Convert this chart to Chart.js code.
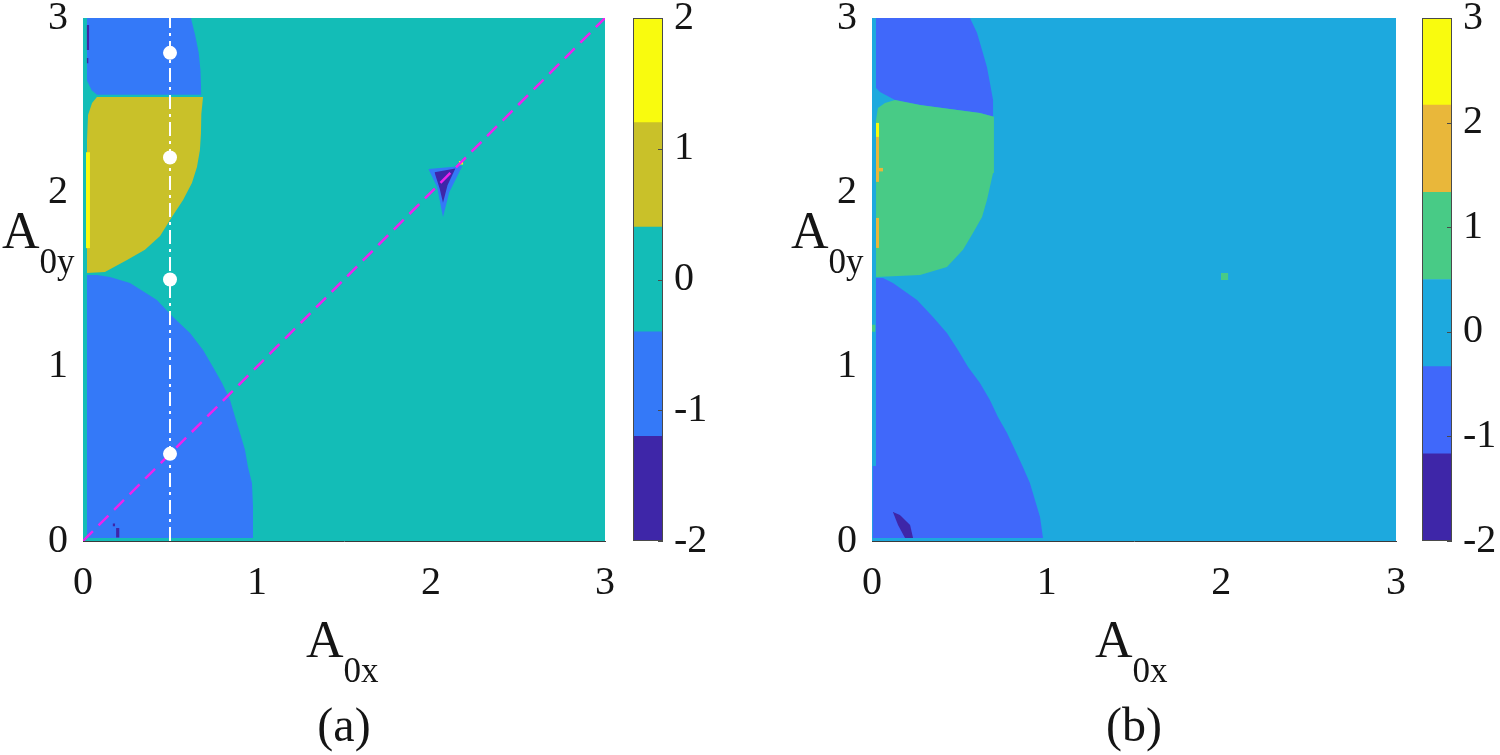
<!DOCTYPE html>
<html><head><meta charset="utf-8">
<script src="https://cdn.jsdelivr.net/npm/chart.js@4.4.1/dist/chart.umd.min.js"></script>
<style>
html,body{margin:0;padding:0;background:#fff;}
#wrap{position:relative;width:1500px;height:755px;overflow:hidden;background:#fff;}
canvas{position:absolute;top:0;}
</style></head><body>
<div id="wrap">
<canvas id="plotA" width="625" height="755" style="left:0px"></canvas>
<canvas id="cbarA" width="78" height="755" style="left:633px"></canvas>
<canvas id="plotB" width="627" height="755" style="left:789px"></canvas>
<canvas id="cbarB" width="78" height="755" style="left:1422px"></canvas>
</div>
<script>
// ================= DATA =================
const A0x_ticks = [0, 1, 2, 3];
const A0y_ticks = [0, 1, 2, 3];

// colour bars
const cbarA_ticks = [-2, -1, 0, 1, 2];
const cbarA_edges = [-2, -1.2, -0.4, 0.4, 1.2, 2];
const cbarB_ticks = [-2, -1, 0, 1, 2, 3];
const cbarB_edges = [-2, -1.1667, -0.3333, 0.5, 1.3333, 2.1667, 3];

// ---- panel (a) regions (A0x, A0y) ----
const a_level0_full = [[0, 3], [3, 3]];                       // level 0 everywhere, down to 0
const a_topBlue_upper = [[0.023, 3], [0.62, 3], [0.645, 2.9], [0.665, 2.8], [0.675, 2.7], [0.68, 2.56]];
const a_topBlue_lower = [[0.023, 2.64], [0.05, 2.585], [0.08, 2.56], [0.68, 2.56]];
const a_olive_upper = [[0.023, 2.30], [0.029, 2.444], [0.052, 2.513], [0.08, 2.547], [0.69, 2.547]];
const a_olive_lower = [[0.023, 1.538], [0.126, 1.543], [0.253, 1.612], [0.356, 1.670], [0.443, 1.75],
  [0.511, 1.859], [0.575, 1.956], [0.626, 2.054], [0.655, 2.146], [0.672, 2.243], [0.678, 2.341],
  [0.68, 2.45], [0.69, 2.547]];
const a_lowBlue_upper = [[0.023, 1.526], [0.08, 1.526], [0.155, 1.515], [0.27, 1.48], [0.425, 1.383],
  [0.517, 1.285], [0.615, 1.193], [0.69, 1.096], [0.747, 0.998], [0.799, 0.906], [0.845, 0.809],
  [0.874, 0.711], [0.902, 0.62], [0.931, 0.522], [0.948, 0.425], [0.971, 0.333], [0.977, 0.2], [0.977, 0.017]];
const a_lowBlue_base = 0.017;
const a_yellowStrip = [0.017, 0.040, 1.68, 2.23];             // x0, x1, y0, y1
const a_purpleStripTop = [0.021, 0.036, 2.817, 2.96];
const a_purpleDotTop = [0.021, 0.032, 2.74, 2.77];
const a_purpleMarkLow = [0.19, 0.21, 0.02, 0.075];
const a_purpleDotLow = [0.17, 0.185, 0.085, 0.1];
const a_tri_upper = [[1.985, 2.134], [2.18, 2.151]];
const a_tri_lower = [[1.985, 2.134], [2.035, 2.03], [2.069, 1.859], [2.105, 2.0], [2.18, 2.151]];
const a_triCore_upper = [[2.02, 2.115], [2.14, 2.137]];
const a_triCore_lower = [[2.02, 2.115], [2.05, 2.02], [2.069, 1.94], [2.095, 2.04], [2.14, 2.137]];
const a_yellowSpot = [2.16, 2.185, 2.16, 2.18];
const a_diagonal = [[0, 0], [3, 3]];
const a_cutLine = [[0.5, 0], [0.5, 3]];
const a_cutPoints_x = [0.5, 0.5, 0.5, 0.5];
const a_cutPoints_y = [2.8, 2.2, 1.5, 0.5];

// ---- panel (b) regions ----
const b_level0_full = [[0, 3], [3, 3]];
const b_topBlue_upper = [[0.023, 3], [0.561, 3], [0.601, 2.915], [0.63, 2.817], [0.658, 2.719],
  [0.675, 2.628], [0.693, 2.53], [0.698, 2.433]];
const b_topBlue_lower = [[0.023, 2.599], [0.046, 2.576], [0.132, 2.53], [0.275, 2.501], [0.446, 2.478],
  [0.618, 2.455], [0.698, 2.433]];
const b_green_upper = [[0.023, 2.415], [0.034, 2.484], [0.074, 2.513], [0.132, 2.53], [0.275, 2.501],
  [0.446, 2.478], [0.618, 2.455], [0.698, 2.433]];
const b_green_lower = [[0.023, 1.515], [0.275, 1.526], [0.429, 1.572], [0.521, 1.67], [0.578, 1.767],
  [0.63, 1.859], [0.658, 1.956], [0.675, 2.031], [0.693, 2.111], [0.698, 2.243], [0.698, 2.433]];
const b_orangeStrip1 = [0.023, 0.040, 2.06, 2.398];
const b_orangeNub = [0.023, 0.063, 2.12, 2.14];
const b_yellowStrip = [0.023, 0.040, 2.318, 2.398];
const b_orangeStrip2 = [0.023, 0.040, 1.681, 1.853];
const b_lowBlue_upper = [[0.023, 1.509], [0.063, 1.509], [0.12, 1.48], [0.258, 1.383], [0.349, 1.285],
  [0.429, 1.193], [0.492, 1.096], [0.55, 0.998], [0.618, 0.906], [0.675, 0.809], [0.721, 0.711],
  [0.773, 0.62], [0.819, 0.522], [0.864, 0.425], [0.904, 0.333], [0.933, 0.235], [0.962, 0.138], [0.979, 0.017]];
const b_lowBlue_base = 0.017;
const b_lowBlueEdge = [0.003, 0.023, 0.017, 0.43];
const b_greenEdgeSpot = [0.0, 0.02, 1.2, 1.24];
const b_purple_upper = [[0.12, 0.166], [0.16, 0.149], [0.218, 0.092], [0.235, 0.017]];
const b_purple_lower = [[0.12, 0.166], [0.149, 0.092], [0.189, 0.017], [0.235, 0.017]];
const b_greenSpot = [1.998, 2.04, 1.497, 1.537];

// ================= STYLE =================
const colA = {m2: '#3E26A8', m1: '#3479F8', z: '#13BDB7', p1: '#C9C129', p2: '#F9FB0E'};
const colB = {m2: '#3E26A8', m1: '#4068FA', z: '#1DA9DE', p1: '#48CB86', p2: '#E9B73A', p3: '#F9FB0E'};
const SERIF = '"Liberation Serif", "Times New Roman", serif';
const tickFont = {family: SERIF, size: 40};
const INK = '#151515';

// ================= BUILDERS =================
const pts = arr => arr.map(p => ({x: p[0], y: p[1]}));
function layerBuilder() {
  const list = [];
  const hidden = {borderWidth: 0, borderColor: 'rgba(0,0,0,0)', pointRadius: 0, fill: false};
  return {
    list,
    toValue(line, base, color) {
      list.push(Object.assign({}, hidden, {data: pts(line), fill: {value: base}, backgroundColor: color}));
    },
    rect(r, color) {
      list.push(Object.assign({}, hidden, {data: pts([[r[0], r[3]], [r[1], r[3]]]), fill: {value: r[2]}, backgroundColor: color}));
    },
    between(upper, lower, color) {
      list.push(Object.assign({}, hidden, {data: pts(upper)}));
      list.push(Object.assign({}, hidden, {data: pts(lower), fill: '-1', backgroundColor: color}));
    },
    line(data, color, width, dash) {
      list.push({data: pts(data), borderColor: color, borderWidth: width, borderDash: dash, pointRadius: 0, fill: false});
    },
    points(xs, ys, color, r) {
      list.push({data: xs.map((x, i) => ({x, y: ys[i]})), showLine: false, pointRadius: r,
        pointBackgroundColor: color, pointBorderWidth: 0, borderColor: color, fill: false});
    },
    finish() { // paint order = array order (first painted lowest)
      const n = list.length;
      list.forEach((d, i) => { d.order = n - i; });
      return list;
    }
  };
}

const panelTextPlugin = {
  id: 'panelText',
  afterDraw(chart, args, o) {
    if (!o || !o.panel) return;
    const {ctx, chartArea: ca} = chart;
    ctx.save();
    ctx.fillStyle = INK;
    ctx.textBaseline = 'alphabetic';
    ctx.textAlign = 'left';
    const sub = (main, s, x, y, dy) => {
      ctx.font = '52px ' + SERIF; ctx.fillText(main, x, y);
      const w = ctx.measureText(main).width;
      ctx.font = '35px ' + SERIF; ctx.fillText(s, x + w, y + dy);
    };
    sub('A', '0x', ca.left + 223, 657, 25);
    sub('A', '0y', ca.left - 81, 248, 25);
    ctx.font = '48px ' + SERIF; ctx.textAlign = 'center';
    ctx.fillText(o.panel, (ca.left + ca.right) / 2, 741);
    ctx.restore();
  }
};

const cbarFramePlugin = {
  id: 'cbarFrame',
  afterDraw(chart, args, o) {
    if (!o || !o.ticks) return;
    const {ctx, chartArea: ca} = chart;
    const ys = chart.scales.y;
    ctx.save();
    ctx.strokeStyle = '#4a4a4a';
    ctx.lineWidth = 1;
    ctx.strokeRect(ca.left + 0.5, ca.top + 0.5, ca.right - ca.left - 1, ca.bottom - ca.top - 1);
    o.ticks.forEach(v => {
      const y = Math.round(ys.getPixelForValue(v)) + 0.5;
      ctx.beginPath(); ctx.moveTo(ca.right - 5, y); ctx.lineTo(ca.right, y); ctx.stroke();
    });
    ctx.restore();
  }
};

const noPad = s => { s.paddingTop = 0; s.paddingBottom = 0; s.paddingLeft = 0; s.paddingRight = 0; };

function makePlot(id, datasets, panel) {
  return new Chart(document.getElementById(id), {
    type: 'line',
    data: {datasets},
    options: {
      responsive: false, animation: false, devicePixelRatio: 1,
      layout: {padding: {top: 18, right: 20, left: 0, bottom: 0}},
      elements: {line: {tension: 0}, point: {radius: 0, hoverRadius: 0}},
      plugins: {legend: {display: false}, tooltip: {enabled: false}, panelText: {panel}},
      scales: {
        x: {type: 'linear', min: 0, max: 3,
          afterBuildTicks: s => { s.ticks = A0x_ticks.map(v => ({value: v})); },
          ticks: {font: tickFont, color: INK, padding: 18, maxRotation: 0, autoSkip: false},
          grid: {display: false, drawTicks: false},
          border: {display: true, color: '#3a3a3a', width: 1},
          afterFit: s => { s.height = 214; noPad(s); }},
        y: {type: 'linear', min: 0, max: 3,
          afterBuildTicks: s => { s.ticks = A0y_ticks.map(v => ({value: v})); },
          ticks: {font: tickFont, color: INK, padding: 15, autoSkip: false},
          grid: {display: false, drawTicks: false},
          border: {display: false},
          afterFit: s => { s.width = 83; noPad(s); }}
      }
    },
    plugins: [panelTextPlugin]
  });
}

function makeCbar(id, edges, ticks, colors) {
  const datasets = colors.map((c, i) => ({
    data: [[edges[i], edges[i + 1]]], backgroundColor: c, borderWidth: 0,
    barPercentage: 1, categoryPercentage: 1, grouped: false
  }));
  return new Chart(document.getElementById(id), {
    type: 'bar',
    data: {labels: [''], datasets},
    options: {
      responsive: false, animation: false, devicePixelRatio: 1,
      layout: {padding: {top: 18, bottom: 214, left: 0, right: 0}},
      plugins: {legend: {display: false}, tooltip: {enabled: false}, cbarFrame: {ticks}},
      scales: {
        x: {display: false},
        y: {position: 'right', min: edges[0], max: edges[edges.length - 1],
          afterBuildTicks: s => { s.ticks = ticks.map(v => ({value: v})); },
          ticks: {font: tickFont, color: INK, padding: 11, autoSkip: false},
          grid: {display: false, drawTicks: false},
          border: {display: false},
          afterFit: s => { s.width = 48; noPad(s); }}
      }
    },
    plugins: [cbarFramePlugin]
  });
}

// ================= PANEL (a) =================
const LA = layerBuilder();
LA.toValue(a_level0_full, 0, colA.z);
LA.between(a_topBlue_upper, a_topBlue_lower, colA.m1);
LA.between(a_olive_upper, a_olive_lower, colA.p1);
LA.toValue(a_lowBlue_upper, a_lowBlue_base, colA.m1);
LA.rect(a_yellowStrip, colA.p2);
LA.rect(a_purpleStripTop, colA.m2);
LA.rect(a_purpleDotTop, colA.m2);
LA.rect(a_purpleMarkLow, colA.m2);
LA.rect(a_purpleDotLow, colA.m2);
LA.between(a_tri_upper, a_tri_lower, colA.m1);
LA.between(a_triCore_upper, a_triCore_lower, colA.m2);
LA.rect(a_yellowSpot, colA.p2);
LA.line(a_cutLine, '#ffffff', 2, [14, 5, 3, 5]);
LA.line(a_diagonal, '#EE22EE', 2.5, [14, 8]);
LA.points(a_cutPoints_x, a_cutPoints_y, '#ffffff', 7);
makePlot('plotA', LA.finish(), '(a)');
makeCbar('cbarA', cbarA_edges, cbarA_ticks, [colA.m2, colA.m1, colA.z, colA.p1, colA.p2]);

// ================= PANEL (b) =================
const LB = layerBuilder();
LB.toValue(b_level0_full, 0, colB.z);
LB.between(b_topBlue_upper, b_topBlue_lower, colB.m1);
LB.between(b_green_upper, b_green_lower, colB.p1);
LB.rect(b_orangeStrip1, colB.p2);
LB.rect(b_orangeNub, colB.p2);
LB.rect(b_yellowStrip, colB.p3);
LB.rect(b_orangeStrip2, colB.p2);
LB.toValue(b_lowBlue_upper, b_lowBlue_base, colB.m1);
LB.rect(b_lowBlueEdge, colB.m1);
LB.rect(b_greenEdgeSpot, colB.p1);
LB.between(b_purple_upper, b_purple_lower, colB.m2);
LB.rect(b_greenSpot, colB.p1);
makePlot('plotB', LB.finish(), '(b)');
makeCbar('cbarB', cbarB_edges, cbarB_ticks, [colB.m2, colB.m1, colB.z, colB.p1, colB.p2, colB.p3]);
</script>
</body></html>
